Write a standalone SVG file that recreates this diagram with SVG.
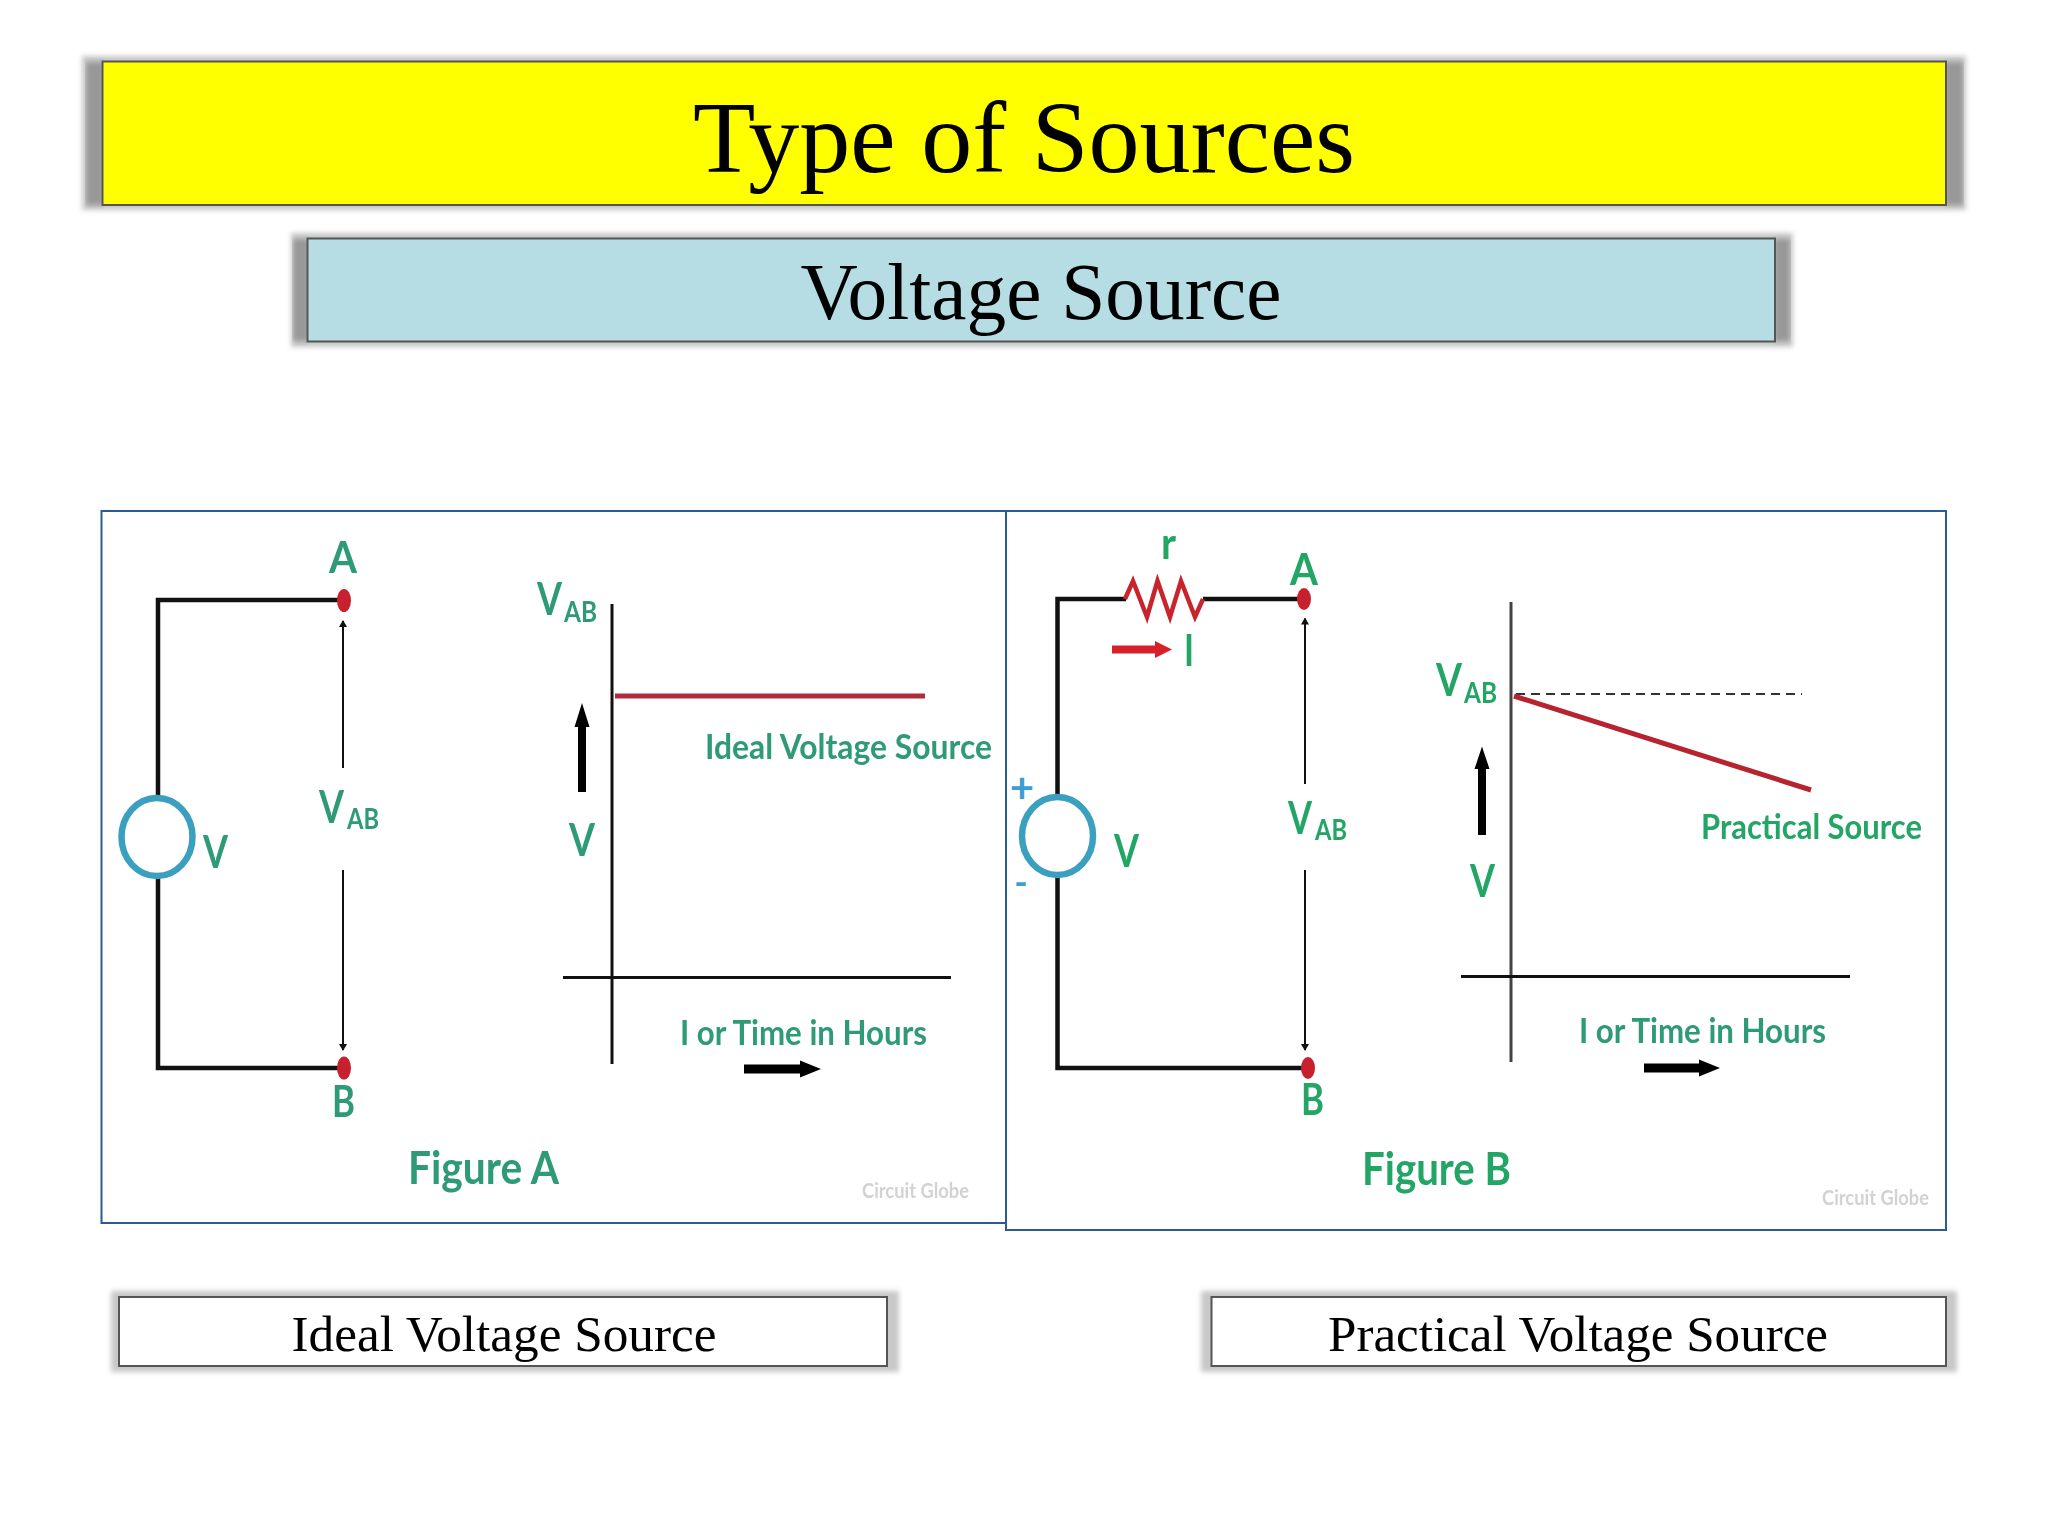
<svg xmlns="http://www.w3.org/2000/svg" width="2048" height="1536" viewBox="0 0 2048 1536">
<defs>
<filter id="soft" x="-5%" y="-20%" width="110%" height="140%"><feGaussianBlur stdDeviation="2.500"/></filter>
<filter id="fuzz" x="-5%" y="-20%" width="110%" height="140%"><feGaussianBlur stdDeviation="0.6"/></filter>
<marker id="tip" markerWidth="7" markerHeight="10" refX="6" refY="4" orient="auto-start-reverse" markerUnits="userSpaceOnUse"><path d="M0 0L7 4L0 8z" fill="#111"/></marker>
</defs>
<style>
.serif{font-family:"Liberation Serif",serif;fill:#000}
.g{font-family:Lato,"Open Sans",sans-serif;font-weight:700;fill:#2f9a78;filter:url(#fuzz)}
.g2{font-family:Lato,"Open Sans",sans-serif;font-weight:700;fill:#22a565;filter:url(#fuzz)}
.wm{font-family:Lato,"Open Sans",sans-serif;font-weight:700;font-size:20px;fill:#d2d2d2;filter:url(#fuzz)}
.sub{font-size:28px}
.shadow{fill:#c8c8c8;filter:url(#soft)}
.band{fill:#989898;filter:url(#soft)}
.box{stroke:#555;stroke-width:2}
.panel{fill:#fff;stroke:#2c5a94;stroke-width:2}
.wire{fill:none;stroke:#111;stroke-width:4.5}
.thin{fill:none;stroke:#111;stroke-width:2}
.axis{fill:none;stroke:#111;stroke-width:3}
.src{fill:#fff;stroke:#3b9fc0;stroke-width:6.5}
.dot{fill:#c8202f}
.arr{fill:#000}
</style>
<rect width="2048" height="1536" fill="#fff"/>

<g id="title">
<rect class="shadow" x="82" y="56" width="1884" height="154"/>
<rect class="band" x="86" y="62" width="18" height="143"/>
<rect class="band" x="1945" y="62" width="18" height="143"/>
<rect class="box" x="102.500" y="61.500" width="1843.500" height="143.500" fill="#ffff00"/>
<text class="serif" x="693" y="172" font-size="101" textLength="662" lengthAdjust="spacingAndGlyphs">Type of Sources</text>
</g>

<g id="subtitle">
<rect class="shadow" x="291" y="233" width="1502" height="114"/>
<rect class="band" x="293" y="239" width="16" height="102"/>
<rect class="band" x="1774" y="239" width="16" height="102"/>
<rect class="box" x="307.500" y="238.500" width="1467.500" height="103" fill="#b7dde4"/>
<text class="serif" x="800.500" y="319" font-size="80" textLength="481" lengthAdjust="spacingAndGlyphs">Voltage Source</text>
</g>

<g id="panel-a">
<rect class="panel" x="101.500" y="511" width="904.500" height="712"/>
<text class="g" x="329" y="573" font-size="43" textLength="28" lengthAdjust="spacingAndGlyphs">A</text>
<text class="g" x="203" y="868" font-size="46" textLength="25" lengthAdjust="spacingAndGlyphs">V</text>
<text class="g" font-size="46"><tspan x="319" y="823" textLength="25" lengthAdjust="spacingAndGlyphs">V</tspan><tspan class="sub" x="347" y="829" textLength="32" lengthAdjust="spacingAndGlyphs">AB</tspan></text>
<text class="g" x="332" y="1117" font-size="43" textLength="23" lengthAdjust="spacingAndGlyphs">B</text>
<text class="g" font-size="46"><tspan x="537" y="615" textLength="25" lengthAdjust="spacingAndGlyphs">V</tspan><tspan class="sub" x="564" y="622" textLength="33" lengthAdjust="spacingAndGlyphs">AB</tspan></text>
<text class="g" x="569" y="856" font-size="46" textLength="26" lengthAdjust="spacingAndGlyphs">V</text>
<text class="g" x="705" y="759" font-size="34" textLength="287" lengthAdjust="spacingAndGlyphs">Ideal Voltage Source</text>
<text class="g" x="680" y="1045" font-size="35" textLength="247" lengthAdjust="spacingAndGlyphs">I or Time in Hours</text>
<text class="g" x="408" y="1184" font-size="46" textLength="151" lengthAdjust="spacingAndGlyphs">Figure A</text>
<text class="wm" x="862" y="1198" textLength="107" lengthAdjust="spacingAndGlyphs">Circuit Globe</text>
</g>

<g id="panel-b">
<rect class="panel" x="1006" y="511" width="940" height="719"/>
<text class="g2" x="1161" y="559" font-size="44" textLength="15" lengthAdjust="spacingAndGlyphs">r</text>
<text class="g2" x="1184" y="666" font-size="44" textLength="10" lengthAdjust="spacingAndGlyphs">I</text>
<text class="g2" x="1290" y="585" font-size="43" textLength="28" lengthAdjust="spacingAndGlyphs">A</text>
<text class="g2" x="1114" y="866.500" font-size="46" textLength="25" lengthAdjust="spacingAndGlyphs">V</text>
<text class="g2" font-size="46"><tspan x="1288" y="834" textLength="24" lengthAdjust="spacingAndGlyphs">V</tspan><tspan class="sub" x="1315" y="840" textLength="32" lengthAdjust="spacingAndGlyphs">AB</tspan></text>
<text class="g2" x="1301" y="1115" font-size="43" textLength="23" lengthAdjust="spacingAndGlyphs">B</text>
<text class="g2" font-size="46"><tspan x="1436" y="696" textLength="26" lengthAdjust="spacingAndGlyphs">V</tspan><tspan class="sub" x="1464" y="703" textLength="33" lengthAdjust="spacingAndGlyphs">AB</tspan></text>
<text class="g2" x="1470" y="897" font-size="46" textLength="25" lengthAdjust="spacingAndGlyphs">V</text>
<text class="g2" x="1701" y="839" font-size="34" textLength="221" lengthAdjust="spacingAndGlyphs">Practical Source</text>
<text class="g" x="1579" y="1043" font-size="35" textLength="247" lengthAdjust="spacingAndGlyphs">I or Time in Hours</text>
<text class="g2" x="1362" y="1185" font-size="46" textLength="149" lengthAdjust="spacingAndGlyphs">Figure B</text>
<text class="wm" x="1822" y="1205" textLength="107" lengthAdjust="spacingAndGlyphs">Circuit Globe</text>
<text x="1022" y="803" font-family="Lato,sans-serif" font-weight="700" font-size="42" fill="#3a9fd0" text-anchor="middle">+</text>
<text x="1021" y="895" font-family="Lato,sans-serif" font-weight="700" font-size="36" fill="#3a9fd0" text-anchor="middle">-</text>
</g>

<g id="connectors">
<path class="wire" d="M158 797V600H338M158 876V1068H338"/>
<path class="thin" d="M343 768V621" marker-end="url(#tip)"/>
<path class="thin" d="M343 870V1050" marker-end="url(#tip)"/>
<path class="axis" d="M612 604V1064"/>
<path class="axis" d="M563 977.500H951"/>
<path d="M615 696H925" fill="none" stroke="#b02a3a" stroke-width="5"/>
<path class="arr" d="M578 792V727H574.500L582 703L589.500 727H586V792z"/>
<path class="arr" d="M744 1064.500H800V1060.500L821 1069L800 1077.500V1073.500H744z"/>

<path class="wire" d="M1057.500 797V599H1126M1203 599H1300M1057.500 876V1068H1304"/>
<path d="M1125 599L1133 581L1147 617L1157.500 581L1170 617L1181 581L1195 617L1203 599" fill="none" stroke="#c8242c" stroke-width="4.500"/>
<path d="M1112 645.500H1155V641L1172 649.500L1155 658V653.500H1112z" fill="#d8202a"/>
<path class="thin" d="M1305 784V618.500" marker-end="url(#tip)"/>
<path class="thin" d="M1305 870V1050" marker-end="url(#tip)"/>
<path d="M1511 602V1062" fill="none" stroke="#444" stroke-width="3"/>
<path class="axis" d="M1461 976.500H1850"/>
<path d="M1516 694H1802" fill="none" stroke="#333" stroke-width="2" stroke-dasharray="9 6"/>
<path d="M1514 696L1811 790" fill="none" stroke="#b5242f" stroke-width="5"/>
<path class="arr" d="M1478 835V769H1474.500L1482 746.500L1489.500 769H1486V835z"/>
<path class="arr" d="M1644 1063.500H1699V1059.500L1720 1068L1699 1076.500V1072.500H1644z"/>
</g>

<g id="source-a"><ellipse class="src" cx="157" cy="837" rx="35.500" ry="39"/></g>
<g id="terminal-a1"><ellipse class="dot" cx="344" cy="600.500" rx="7" ry="11.500"/></g>
<g id="terminal-b1"><ellipse class="dot" cx="344" cy="1068" rx="7" ry="11.500"/></g>
<g id="source-b"><ellipse class="src" cx="1057.500" cy="836" rx="35.500" ry="39"/></g>
<g id="terminal-a2"><ellipse class="dot" cx="1304" cy="599" rx="7" ry="11"/></g>
<g id="terminal-b2"><ellipse class="dot" cx="1308" cy="1068" rx="7" ry="11"/></g>

<g id="label-ideal">
<rect class="shadow" x="111" y="1291" width="788" height="81"/>
<rect class="box" x="119" y="1297" width="768" height="69" fill="#fff"/>
<text class="serif" x="291.500" y="1351" font-size="51" textLength="425" lengthAdjust="spacingAndGlyphs">Ideal Voltage Source</text>
</g>
<g id="label-practical">
<rect class="shadow" x="1201" y="1291" width="756" height="81"/>
<rect class="box" x="1211.500" y="1297" width="734.500" height="69" fill="#fff"/>
<text class="serif" x="1328" y="1351" font-size="51" textLength="500" lengthAdjust="spacingAndGlyphs">Practical Voltage Source</text>
</g>
</svg>
